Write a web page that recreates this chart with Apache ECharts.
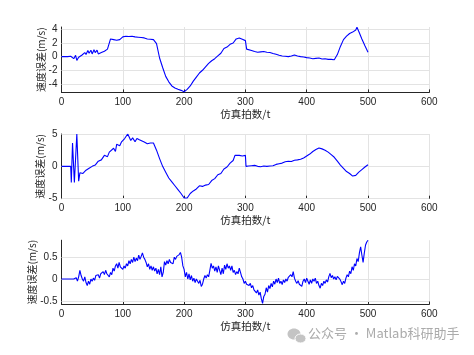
<!DOCTYPE html>
<html><head><meta charset="utf-8">
<script src="https://cdn.jsdelivr.net/npm/echarts@6/dist/echarts.min.js"></script>
<style>html,body{margin:0;padding:0;background:#fff}#c{width:474px;height:355px}</style>
</head><body><div id="c"></div>
<script>
const xTicks = [0,100,200,300,400,500,600];
const yTicks1 = [-4,-2,0,2,4];
const yTicks2 = [-5,0,5];
const yTicks3 = [-0.5,0,0.5];
const xName = '仿真拍数/t';
const yName = '速度误差(m/s)';

const t1 = [0,5,10,15,18,20,23,25,28,30,33,35,38,40,43,45,48,50,53,55,58,60,65,70,75,80,85,90,95,100,105,110,115,120,125,130,135,140,145,150,155,160,165,170,175,180,185,190,195,200,205,210,215,220,225,230,235,240,245,250,255,260,265,270,275,280,285,290,295,300,302,305,310,315,320,325,330,335,340,345,350,355,360,365,370,375,380,385,390,395,400,405,410,415,420,425,430,435,440,445,450,455,460,465,470,475,480,482,485,490,495,500];
const v1 = [0,0,0,0.05,0.3,-0.3,0.2,-0.55,-0.1,-0.35,0.2,0.0,0.6,0.3,0.9,0.5,0.95,0.4,1.0,0.6,0.95,0.4,0.6,0.8,1.1,2.6,2.5,2.4,2.5,2.9,3.0,2.95,3.0,2.9,2.85,2.8,2.75,2.6,2.55,2.5,1.9,-0.2,-1.6,-2.9,-3.7,-4.3,-4.6,-4.8,-4.95,-5.15,-4.8,-4.3,-3.6,-3.0,-2.4,-2.0,-1.5,-1.0,-0.6,-0.3,0.1,0.5,1.2,1.4,1.8,2.0,2.6,2.75,2.55,2.35,1.1,1.0,0.9,0.75,0.65,0.7,0.75,0.65,0.6,0.45,0.35,0.2,0.1,0.05,0.0,0.1,0.25,0.1,0.0,-0.05,-0.15,-0.2,-0.3,-0.25,-0.2,-0.35,-0.3,-0.4,-0.4,-0.45,0.3,1.5,2.5,3.0,3.4,3.6,3.9,4.3,3.7,2.6,1.6,0.65];

const t2 = [0,5,10,15,16,18,21,25,28,30,32,35,40,45,50,55,60,65,68,70,75,78,80,85,88,90,95,98,100,103,105,108,110,113,116,120,123,127,130,135,140,145,150,155,160,165,170,175,180,185,190,195,200,203,205,210,215,220,225,230,235,240,245,250,255,260,265,270,275,280,283,285,290,295,300,301,305,310,315,320,325,330,335,340,345,350,355,360,365,370,375,380,385,390,395,400,405,410,415,420,425,430,435,440,445,450,455,460,465,470,475,480,485,490,495,500];
const v2 = [0,0,0,0,-2.5,3.6,-2.5,5.0,-2.3,-1.0,-0.8,-1.1,-0.6,-0.3,0.0,0.2,0.8,1.0,0.7,1.7,1.5,2.2,2.0,2.8,2.3,3.4,3.2,3.8,3.6,4.3,4.1,5.0,4.6,4.0,4.4,3.8,4.3,4.1,3.9,3.75,3.5,3.6,3.6,2.5,1.2,0.0,-0.9,-1.8,-2.4,-3.0,-3.6,-4.2,-4.9,-4.6,-4.9,-4.2,-3.8,-3.5,-3.0,-3.1,-2.9,-2.8,-2.2,-1.9,-1.3,-1.1,-0.4,-0.1,0.5,0.9,1.7,1.5,1.7,1.6,1.7,0.0,0.05,0.1,0.15,0.0,-0.05,0.05,0.0,0.05,0.1,0.3,0.4,0.5,0.7,0.8,0.75,0.95,1.0,1.1,1.3,1.6,1.9,2.3,2.6,2.85,2.7,2.5,2.2,1.8,1.4,0.8,0.2,-0.3,-0.8,-1.1,-1.5,-1.4,-0.9,-0.5,-0.1,0.25];

const step3 = 2;
const v3 = [
0,0,0,0,0,0,0,0,0,0,
0,-0.02,0.03,-0.05,0.05,0.2,0.08,0,-0.05,0.05,
-0.08,-0.15,-0.05,-0.12,0,-0.05,0.02,-0.03,0.08,0.05,
0.1,0.02,0.12,0.08,0.17,0.1,0.2,0.12,0.15,0.05,
0.15,0.1,0.25,0.18,0.3,0.35,0.25,0.38,0.28,0.3,
0.22,0.3,0.25,0.35,0.3,0.42,0.35,0.45,0.38,0.5,
0.4,0.48,0.42,0.55,0.45,0.52,0.6,0.5,0.45,0.38,
0.28,0.35,0.22,0.3,0.2,0.28,0.18,0.25,0.12,0.22,
0.1,0.28,0.05,0.15,0.4,0.32,0.42,0.35,0.45,0.38,
0.42,0.35,0.5,0.45,0.52,0.48,0.56,0.61,0.5,0.3,
0.22,0.05,0.15,0,0.12,-0.02,0.08,-0.05,0.02,-0.08,
0,-0.05,-0.1,-0.03,-0.17,-0.12,0,0.08,0.02,0.1,
0.05,0.2,0.36,0.25,0.3,0.18,0.28,0.15,0.3,0.2,
0.1,0.25,0.12,0.32,0.22,0.35,0.25,0.3,0.2,0.3,
0.15,0.2,0.1,0.17,0.12,0.25,0.15,0.05,0,-0.1,
-0.05,-0.12,-0.08,-0.15,-0.1,-0.2,-0.15,-0.25,-0.22,-0.32,
-0.25,-0.37,-0.3,-0.45,-0.56,-0.4,-0.35,-0.2,-0.3,-0.15,
-0.22,-0.1,-0.18,-0.05,-0.12,0,-0.08,0.02,-0.1,-0.05,
-0.13,-0.02,-0.08,0,-0.05,0.04,0,0.1,0.05,0.17,
0.02,-0.05,-0.1,-0.04,-0.12,-0.08,-0.17,-0.05,0,-0.08,
0.02,-0.05,-0.12,-0.02,-0.1,0,-0.05,0.02,-0.1,-0.05,
-0.15,-0.21,-0.1,-0.15,-0.05,-0.1,-0.02,-0.07,0.05,0.13,
0.03,0.08,0,0.05,-0.02,0.06,0.04,0,-0.06,-0.13,
-0.05,-0.1,0.02,0.1,0.05,0.18,0.12,0.28,0.2,0.35,
0.3,0.47,0.4,0.6,0.74,0.55,0.38,0.6,0.78,0.85,
0.89];
const t3 = v3.map((_, i) => i * step3);

const yRanges = [[-5.25, 4.35], [-5, 5], [-0.58, 0.89]];
const yTickSets = [yTicks1, yTicks2, yTicks3];
const yNameGaps = [15, 16, 24];
const tops = [27, 134, 240.2];
const heights = [65.4, 64.7, 64.1];
const seriesT = [t1, t2, t3];
const seriesV = [v1, v2, v3];

const txt = '#262626';
const gridCol = '#e3e3e3';
const tickFont = 'Liberation Sans, Arial, sans-serif';
const cjkFont = 'Noto Sans CJK SC, sans-serif';

const chart = echarts.init(document.getElementById('c'), null, {renderer: 'canvas'});
const grid = [], xAxis = [], yAxis = [], series = [];
for (let i = 0; i < 3; i++) {
  grid.push({left: 61.5, top: tops[i], width: 367.8, height: heights[i], containLabel: false});
  xAxis.push({
    gridIndex: i, type: 'value', min: xTicks[0], max: xTicks[xTicks.length - 1], interval: 100,
    axisLine: {show: true, onZero: false, lineStyle: {color: txt, width: 1}},
    axisTick: {show: true, inside: true, length: 3, lineStyle: {color: txt}},
    axisLabel: {color: txt, fontSize: 10, margin: 5, fontFamily: tickFont},
    splitLine: {show: true, lineStyle: {color: gridCol, width: 1}},
    name: xName, nameLocation: 'middle', nameGap: 16, nameMoveOverlap: false,
    nameTextStyle: {color: txt, fontSize: 10.5, fontFamily: cjkFont}
  });
  yAxis.push({
    gridIndex: i, type: 'value', min: yRanges[i][0], max: yRanges[i][1],
    axisLine: {show: true, onZero: false, lineStyle: {color: txt, width: 1}},
    axisTick: {show: true, inside: true, length: 3, lineStyle: {color: txt}, customValues: yTickSets[i]},
    axisLabel: {color: txt, fontSize: 10, margin: 4, fontFamily: tickFont, customValues: yTickSets[i]},
    splitLine: {show: false},
    name: yName, nameLocation: 'middle', nameGap: yNameGaps[i], nameRotate: 90, nameMoveOverlap: false,
    nameTextStyle: {color: txt, fontSize: 10, fontFamily: cjkFont}
  });
  series.push({
    type: 'line', xAxisIndex: i, yAxisIndex: i,
    data: seriesT[i].map((t, k) => [t, seriesV[i][k]]),
    symbol: 'none', showSymbol: false, animation: false, z: 3,
    lineStyle: {color: '#0000ff', width: 1.1},
    markLine: {
      silent: true, symbol: 'none', z: 1, animation: false,
      label: {show: false},
      lineStyle: {color: gridCol, width: 1, type: 'solid'},
      emphasis: {disabled: true},
      data: yTickSets[i].map(v => ({yAxis: v}))
    }
  });
}

chart.setOption({
  animation: false,
  backgroundColor: '#ffffff',
  grid, xAxis, yAxis, series,
  graphic: [
    {type: 'ellipse', shape: {cx: 294, cy: 334, rx: 6.5, ry: 5.5}, style: {fill: '#c4c4c4'}, z: 10},
    {type: 'ellipse', shape: {cx: 300.5, cy: 338.5, rx: 5.5, ry: 4.5}, style: {fill: '#c4c4c4', stroke: '#ffffff', lineWidth: 1}, z: 11},
    {type: 'text', left: 308, top: 327, z: 10,
     style: {text: '公众号 · Matlab科研助手', fill: '#ababab', fontSize: 13, fontFamily: cjkFont}}
  ]
});
</script>
</body></html>
